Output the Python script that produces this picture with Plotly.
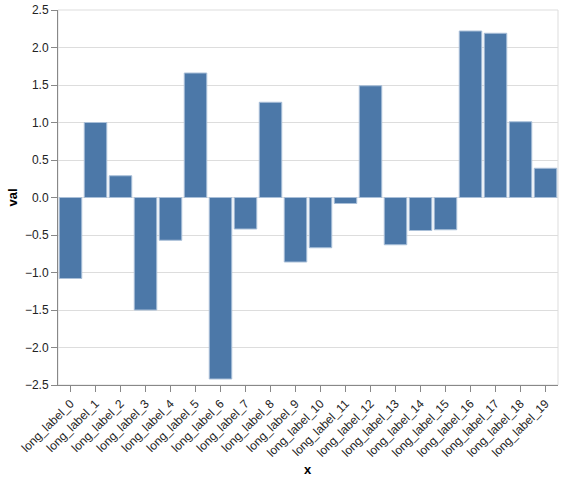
import plotly.graph_objects as go

labels = [f"long_label_{i}" for i in range(20)]
values = [-1.08, 1.00, 0.29, -1.50, -0.57, 1.66, -2.42, -0.42, 1.27, -0.86,
          -0.67, -0.08, 1.49, -0.63, -0.44, -0.43, 2.22, 2.19, 1.01, 0.39]
y_ticks = [-2.5, -2.0, -1.5, -1.0, -0.5, 0.0, 0.5, 1.0, 1.5, 2.0, 2.5]

fig = go.Figure(
    go.Bar(
        x=labels,
        y=values,
        marker={"color": "#4c78a8", "line": {"color": "#a9bfd8", "width": 1}},
    )
)

axis_font = {"family": "Liberation Sans, Arial, sans-serif", "size": 12, "color": "#222"}
title_font = {"family": "Liberation Sans, Arial, sans-serif", "size": 13, "color": "#000"}
fig.update_layout(
    width=561,
    height=483,
    margin={"l": 58, "r": 3, "t": 10, "b": 98},
    plot_bgcolor="white",
    paper_bgcolor="white",
    bargap=0.1,
    font=axis_font,
    showlegend=False,
    xaxis={
        "automargin": False,
        "tickangle": -45,
        "ticks": "outside",
        "ticklen": 6,
        "tickcolor": "#888",
        "showline": True,
        "linecolor": "#888",
        "showgrid": False,
        "tickfont": axis_font,
    },
    yaxis={
        "automargin": False,
        "range": [-2.5, 2.5],
        "tickvals": y_ticks,
        "tickformat": ".1f",
        "ticks": "outside",
        "ticklen": 6,
        "tickcolor": "#888",
        "showline": True,
        "linecolor": "#888",
        "showgrid": True,
        "gridcolor": "#ddd",
        "zeroline": False,
        "tickfont": axis_font,
    },
    shapes=[
        {
            "type": "rect", "xref": "paper", "yref": "paper",
            "x0": 0, "x1": 1, "y0": 0, "y1": 1,
            "line": {"color": "#ddd", "width": 1}, "layer": "below",
        }
    ],
    annotations=[
        {
            "text": "<b>x</b>", "xref": "paper", "yref": "paper",
            "x": 0.5, "y": -0.224, "showarrow": False, "font": title_font,
            "xanchor": "center", "yanchor": "middle",
        },
        {
            "text": "<b>val</b>", "xref": "paper", "yref": "paper",
            "x": -0.092, "y": 0.5, "showarrow": False, "font": title_font,
            "textangle": -90, "xanchor": "center", "yanchor": "middle",
        },
    ],
)

# drop the default 8px body margin so the figure fills the window
fig.write_html(
    "out.html",
    config={"displayModeBar": False},
    post_script="document.body.style.margin = '0';",
)
